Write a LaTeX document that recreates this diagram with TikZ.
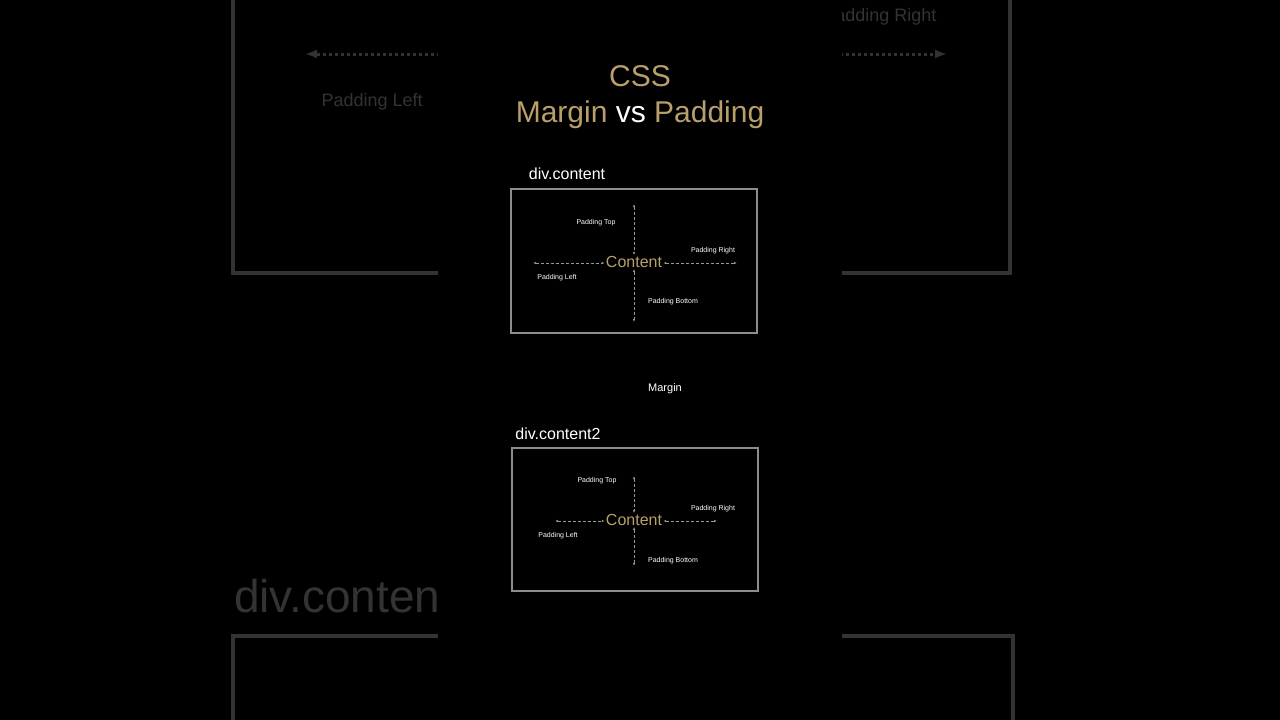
\documentclass[tikz,border=0pt]{standalone}
\usepackage{fontspec}
\setmainfont{Liberation Sans}
\usetikzlibrary{arrows.meta}
\definecolor{gold}{HTML}{B9A06A}
\definecolor{dim}{HTML}{333333}
\tikzset{
  pad/.style={font=\fontsize{7}{8}\selectfont, text=white, inner sep=0pt},
  padarrow/.style={draw=gray!80, densely dashed, line width=0.8pt, {Latex[length=3pt]}-{Latex[length=3pt]}},
  box/.style={draw=gray!90, line width=1.5pt},
  back/.style={draw=dim, line width=4pt}
}
\begin{document}
\begin{tikzpicture}[x=1pt,y=-1pt]
  \fill[black] (0,0) rectangle (1280,720);
  \useasboundingbox (0,0) rectangle (1280,720);
  % dimmed backdrop
  \draw[back] (233,0) -- (233,273) -- (438,273);
  \draw[back] (1010,0) -- (1010,273) -- (842,273);
  \draw[back] (438,636) -- (233,636) -- (233,720);
  \draw[back] (842,636) -- (1013,636) -- (1013,720);
  \coordinate (bl1) at (305,54);
  \coordinate (bl2) at (440,54);
  \coordinate (br1) at (840,54);
  \coordinate (br2) at (947,54);
  \draw[draw=dim, dashed, line width=3pt, -{Latex[length=12pt]}] (bl2) -- (bl1);
  \draw[draw=dim, dashed, line width=3pt, -{Latex[length=12pt]}] (br1) -- (br2);
  \node[text=dim, font=\fontsize{18}{20}\selectfont, anchor=west] (bpl) at (318,102) {Padding Left};
  \node[text=dim, font=\fontsize{18}{20}\selectfont, anchor=east] (bpr) at (940,17) {Padding Right};
  \node[text=dim, font=\fontsize{46}{50}\selectfont, anchor=west, inner sep=0pt] (bdiv) at (234,596) {div.content};
  % center panel
  \fill[black] (438,0) rectangle (842,720);
  \node[text=gold, font=\fontsize{30}{32}\selectfont] (css) at (640,76) {CSS};
  \node[font=\fontsize{30}{32}\selectfont] (title) at (640,115) {\textcolor{gold}{Margin} \textcolor{white}{vs} \textcolor{gold}{Padding}};
  % first box
  \node[text=white, font=\fontsize{16}{18}\selectfont] (div1) at (567,174) {div.content};
  \draw[box] (511,189) rectangle (757,333);
  \node[text=gold, font=\fontsize{16}{18}\selectfont, inner sep=1pt] (c1) at (634,262) {Content};
  \coordinate (t1) at (634,204);
  \coordinate (b1) at (634,322);
  \coordinate (l1) at (533,263);
  \coordinate (r1) at (737,263);
  \draw[padarrow] (t1) -- (c1.north -| t1);
  \draw[padarrow] (c1.south -| b1) -- (b1);
  \draw[padarrow] (l1) -- (c1.west |- l1);
  \draw[padarrow] (c1.east |- r1) -- (r1);
  \node[pad] (pt1) at (596,223) {Padding Top};
  \node[pad] (pr1) at (713,251) {Padding Right};
  \node[pad] (pl1) at (557,278) {Padding Left};
  \node[pad] (pb1) at (673,302) {Padding Bottom};
  \node[text=white, font=\fontsize{11}{12}\selectfont] (margin) at (665,389) {Margin};
  % second box
  \node[text=white, font=\fontsize{16}{18}\selectfont] (div2) at (558,434) {div.content2};
  \draw[box] (512,448) rectangle (758,591);
  \node[text=gold, font=\fontsize{16}{18}\selectfont, inner sep=1pt] (c2) at (634,520) {Content};
  \coordinate (t2) at (634,476);
  \coordinate (b2) at (634,566);
  \coordinate (l2) at (555,521);
  \coordinate (r2) at (717,521);
  \draw[padarrow] (t2) -- (c2.north -| t2);
  \draw[padarrow] (c2.south -| b2) -- (b2);
  \draw[padarrow] (l2) -- (c2.west |- l2);
  \draw[padarrow] (c2.east |- r2) -- (r2);
  \node[pad] (pt2) at (597,481) {Padding Top};
  \node[pad] (pr2) at (713,509) {Padding Right};
  \node[pad] (pl2) at (558,536) {Padding Left};
  \node[pad] (pb2) at (673,561) {Padding Bottom};
\end{tikzpicture}
\end{document}
